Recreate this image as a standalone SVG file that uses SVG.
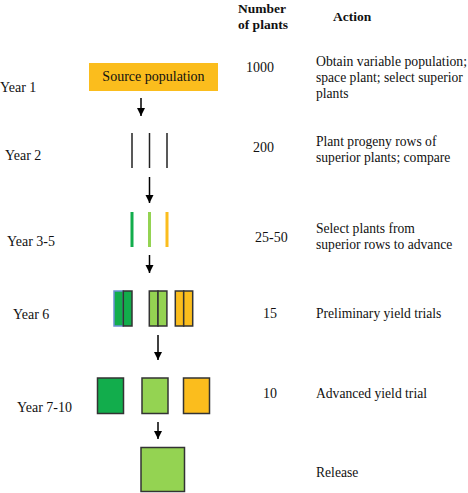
<svg xmlns="http://www.w3.org/2000/svg" width="468" height="493" viewBox="0 0 468 493">
<defs>
<style>
text{font-family:"Liberation Serif","Times New Roman",serif;font-size:14px;fill:#111}
.b{font-weight:bold;font-size:13.5px}
.a{font-size:13.6px}
.dg{fill:#12AD4C}
.lg{fill:#94D352}
.or{fill:#FBBD1D}
.bx{stroke:#333;stroke-width:1.5}
.ln{stroke:#222;stroke-width:1.5}
.ar{stroke:#000;stroke-width:1.5;fill:none;marker-end:url(#ah)}
</style>
<marker id="ah" viewBox="0 0 10 10" refX="10" refY="5" markerWidth="8" markerHeight="9" orient="auto" markerUnits="userSpaceOnUse">
<path d="M0,0 L10,5 L0,10 Z" fill="#000"/>
</marker>
</defs>
<rect width="468" height="493" fill="#fff"/>
<g id="headers">
<text class="b" x="238" y="13">Number</text>
<text class="b" x="238" y="29">of plants</text>
<text class="b" x="333" y="21">Action</text>
</g>
<g id="year-labels">
<text x="0" y="92">Year 1</text>
<text x="5" y="160">Year 2</text>
<text x="7" y="246">Year 3-5</text>
<text x="13" y="319">Year 6</text>
<text x="17" y="412">Year 7-10</text>
</g>
<g id="counts">
<text x="246" y="72">1000</text>
<text x="253" y="152">200</text>
<text x="255" y="242">25-50</text>
<text x="263" y="318">15</text>
<text x="263" y="398">10</text>
</g>
<g id="actions">
<text class="a" x="316" y="66" textLength="151" lengthAdjust="spacingAndGlyphs">Obtain variable population;</text>
<text class="a" x="316" y="82">space plant; select superior</text>
<text class="a" x="316" y="98">plants</text>
<text class="a" x="316" y="146">Plant progeny rows of</text>
<text class="a" x="316" y="162">superior plants; compare</text>
<text class="a" x="316" y="233">Select plants from</text>
<text class="a" x="316" y="249">superior rows to advance</text>
<text class="a" x="316" y="318">Preliminary yield trials</text>
<text class="a" x="316" y="398">Advanced yield trial</text>
<text class="a" x="316" y="477">Release</text>
</g>
<g id="source">
<rect class="or" x="89" y="63" width="129" height="28"/>
<text x="153.5" y="81" text-anchor="middle">Source population</text>
</g>
<g id="year2-rows">
<line class="ln" x1="132" y1="133" x2="132" y2="168"/>
<line class="ln" x1="149.5" y1="133" x2="149.5" y2="168"/>
<line class="ln" x1="167" y1="133" x2="167" y2="168"/>
</g>
<g id="year35-rows">
<rect class="dg" x="130.5" y="212" width="3" height="35"/>
<rect class="lg" x="148" y="212" width="3" height="35"/>
<rect class="or" x="165.5" y="212" width="3" height="35"/>
</g>
<g id="year6-plots">
<rect class="dg" x="114" y="291" width="9.3" height="35" stroke="#6B8FD2" stroke-width="1.5"/>
<rect class="dg bx" x="123.3" y="291" width="8.7" height="35"/>
<rect class="lg bx" x="149.3" y="291" width="8.7" height="35"/>
<rect class="lg bx" x="158" y="291" width="8.9" height="35"/>
<rect class="or bx" x="175.3" y="291" width="8.4" height="35"/>
<rect class="or bx" x="183.7" y="291" width="9" height="35"/>
</g>
<g id="year710-plots">
<rect class="dg bx" x="97.5" y="378" width="26" height="35.5"/>
<rect class="lg bx" x="142" y="378" width="26" height="35.5"/>
<rect class="or bx" x="183.5" y="378" width="26" height="35.5"/>
</g>
<g id="release">
<rect class="lg bx" x="141" y="447.5" width="43.5" height="44"/>
</g>
<g id="connectors">
<line class="ar" x1="141" y1="98" x2="141" y2="116"/>
<line class="ar" x1="149.5" y1="177" x2="149.5" y2="203"/>
<line class="ar" x1="149.5" y1="255" x2="149.5" y2="273"/>
<line class="ar" x1="158" y1="335" x2="158" y2="360"/>
<line class="ar" x1="158" y1="422" x2="158" y2="439"/>
</g>
</svg>
